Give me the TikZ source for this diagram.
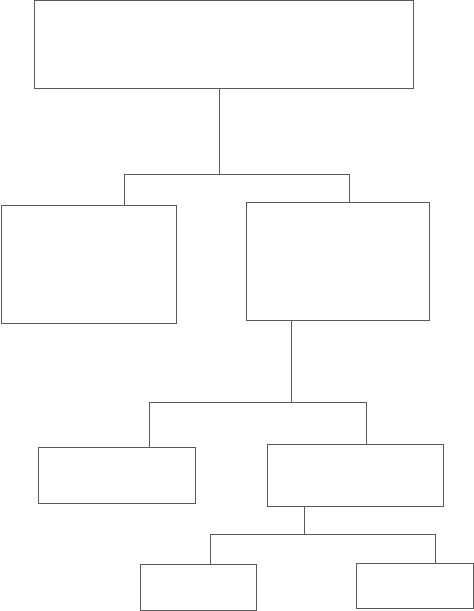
\documentclass[tikz,border=0pt]{standalone}
\usepackage{tikz}
\usetikzlibrary{positioning}

\begin{document}
\begin{tikzpicture}[x=1pt,y=-1pt]
\tikzset{
    caja/.style={rectangle, draw=black!65, line width=0.8pt, inner sep=0pt, outer sep=0pt},
    rama/.style={draw=black!65, line width=0.8pt}
}
\useasboundingbox (0,0) rectangle (474,611);
% cajas
\node[caja, minimum width=378.6pt, minimum height=87.5pt] (raiz) at (224,44.55) {};
\node[caja, minimum width=175.7pt, minimum height=118pt] (izq) at (88.85,264.3) {};
\node[caja, minimum width=182.6pt, minimum height=117.7pt] (der) at (338,261.15) {};
\node[caja, minimum width=156.6pt, minimum height=56.7pt] (izq2) at (117,475.35) {};
\node[caja, minimum width=175.3pt, minimum height=61.3pt] (der2) at (355.35,475.35) {};
\node[caja, minimum width=116pt, minimum height=45.3pt] (izq3) at (198.7,587.35) {};
\node[caja, minimum width=116.6pt, minimum height=45.4pt] (der3) at (415,586) {};
% puntos de union
\coordinate (b1) at (219,174.3);
\coordinate (b1i) at (124.7,174.3);
\coordinate (b1d) at (349.7,174.3);
\coordinate (b2) at (291.7,402);
\coordinate (b2i) at (149.3,402);
\coordinate (b2d) at (366.3,402);
\coordinate (b3) at (304.7,534);
\coordinate (b3i) at (210.3,534);
\coordinate (b3d) at (435.3,534);
% ramas
\draw[rama] (b1 |- raiz.south) -- (b1);
\draw[rama] (b1i |- izq.north) -- (b1i) -- (b1d) -- (b1d |- der.north);
\draw[rama] (b2 |- der.south) -- (b2);
\draw[rama] (b2i |- izq2.north) -- (b2i) -- (b2d) -- (b2d |- der2.north);
\draw[rama] (b3 |- der2.south) -- (b3);
\draw[rama] (b3i |- izq3.north) -- (b3i) -- (b3d) -- (b3d |- der3.north);
\end{tikzpicture}
\end{document}
